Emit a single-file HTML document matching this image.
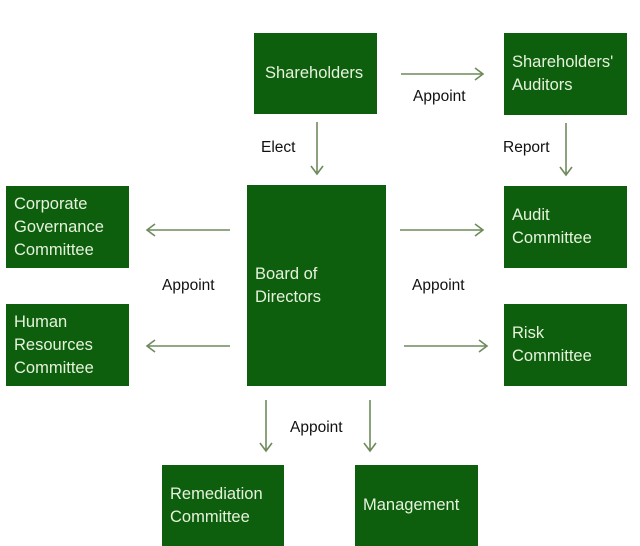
<!DOCTYPE html>
<html><head><style>
body{margin:0;width:640px;height:546px;background:#fff;position:relative;overflow:hidden;font-family:"Liberation Sans",sans-serif;}
.b{position:absolute;background:#0d5f0d;color:#e6f2dc;font-size:16.5px;line-height:23px;box-sizing:border-box;padding-left:9px;display:flex;align-items:center;}
.l{position:absolute;font-size:15.5px;color:#111;}
svg{position:absolute;left:0;top:0;}
</style></head><body>
<div class="b" style="left:254px;top:33px;width:123px;height:81px;padding-left:11px">Shareholders</div>
<div class="b" style="left:504px;top:33px;width:123px;height:82px;padding-left:8px">Shareholders'<br>Auditors</div>
<div class="b" style="left:247px;top:185px;width:139px;height:201px;padding-left:8px">Board of<br>Directors</div>
<div class="b" style="left:6px;top:186px;width:123px;height:82px;padding-left:8px">Corporate<br>Governance<br>Committee</div>
<div class="b" style="left:504px;top:186px;width:123px;height:82px;padding-left:8px">Audit<br>Committee</div>
<div class="b" style="left:6px;top:304px;width:123px;height:82px;padding-left:8px">Human<br>Resources<br>Committee</div>
<div class="b" style="left:504px;top:304px;width:123px;height:82px;padding-left:8px">Risk<br>Committee</div>
<div class="b" style="left:162px;top:465px;width:122px;height:81px;padding-left:8px">Remediation<br>Committee</div>
<div class="b" style="left:355px;top:465px;width:123px;height:81px;padding-left:8px">Management</div>
<div class="l" style="left:413px;top:88px">Appoint</div>
<div class="l" style="left:261px;top:139px">Elect</div>
<div class="l" style="left:503px;top:139px">Report</div>
<div class="l" style="left:162px;top:277px">Appoint</div>
<div class="l" style="left:412px;top:277px">Appoint</div>
<div class="l" style="left:290px;top:419px">Appoint</div>
<svg width="640" height="546" fill="none" stroke="#6f8a5c" stroke-width="1.6">
<path d="M401 74H483M475 68L483 74L475 80"/>
<path d="M317 122V174M311 166L317 174L323 166"/>
<path d="M566 123V175M560 167L566 175L572 167"/>
<path d="M230 230H147M155 224L147 230L155 236"/>
<path d="M400 230H483M475 224L483 230L475 236"/>
<path d="M230 346H147M155 340L147 346L155 352"/>
<path d="M404 346H487M479 340L487 346L479 352"/>
<path d="M266 400V451M260 443L266 451L272 443"/>
<path d="M370 400V451M364 443L370 451L376 443"/>
</svg>
</body></html>
